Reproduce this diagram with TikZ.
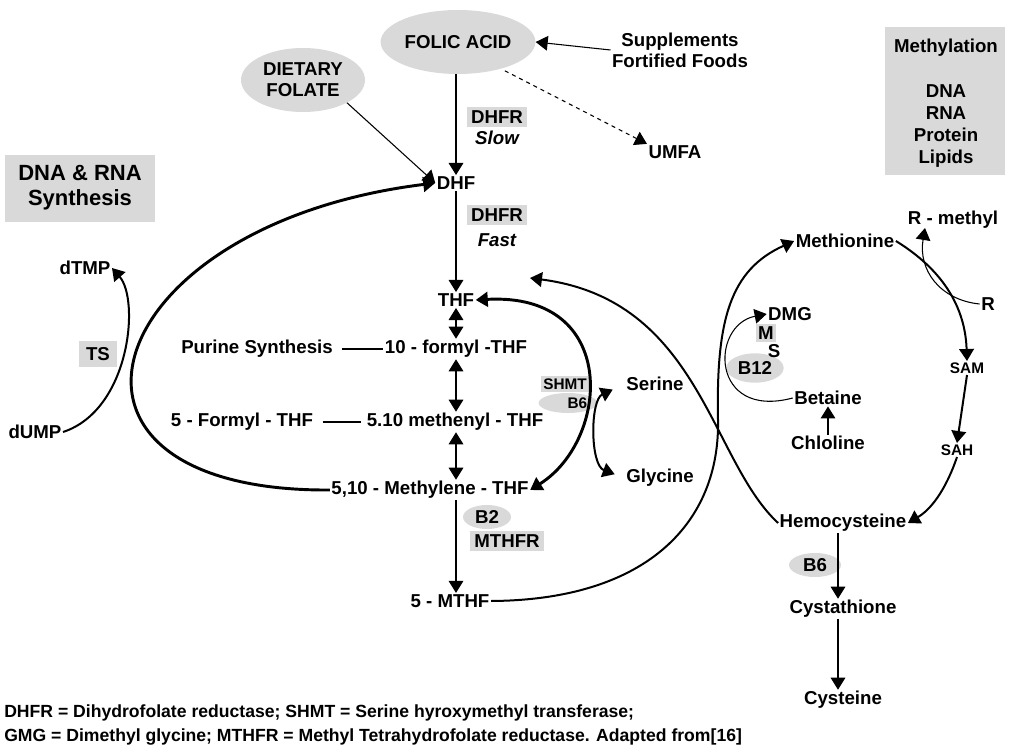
\documentclass[tikz,border=0pt]{standalone}
\usepackage{fontspec}
\setmainfont{Liberation Sans}
\usetikzlibrary{arrows.meta,shapes.geometric}
\begin{document}
\begin{tikzpicture}[x=0.75pt,y=-0.75pt,
  txt/.style={font=\fontsize{14}{16}\selectfont\bfseries, inner sep=1pt, align=center},
  sml/.style={font=\fontsize{11.5}{13}\selectfont\bfseries, inner sep=1pt, align=center},
  gbox/.style={fill=black!15, inner sep=3pt},
  gell/.style={ellipse, fill=black!15, inner sep=1pt},
  tip/.style={-{Triangle[width=11pt,length=9pt]}},
  dtip/.style={{Triangle[width=11pt,length=9pt]}-{Triangle[width=11pt,length=9pt]}},
  thin/.style={line width=0.8pt},
  thick/.style={line width=2.2pt},
  med/.style={line width=1.5pt}]
\useasboundingbox (0,0) rectangle (1024,745);

% boxes and ellipses
\node[gell, minimum width=103pt, minimum height=48pt, txt] (folic) at (458,42) {FOLIC ACID};
\node[gell, minimum width=93pt, minimum height=48pt, txt] (diet) at (303,80) {DIETARY\\FOLATE};
\node[txt] (supp) at (680,50) {Supplements\\Fortified Foods};
\node[txt, gbox] (dhfr1) at (497,117) {DHFR};
\node[txt] (slow) at (497,138) {\itshape Slow};
\node[txt] (umfa) at (675,152) {UMFA};
\fill[black!15] (885,27) rectangle (1005,175);
\node[txt] (meth) at (946,48) {Methylation};
\node[txt, font=\fontsize{14}{16.5}\selectfont\bfseries] (mlist) at (946,126) {DNA\\RNA\\Protein\\Lipids};
\fill[black!15] (5,155) rectangle (155,222);
\node[txt, font=\fontsize{16.5}{19}\selectfont\bfseries] (dnas) at (80,188) {DNA \& RNA\\Synthesis};

% folate chain
\node[txt] (dhf) at (456,183) {DHF};
\node[txt, gbox] (dhfr2) at (497,215) {DHFR};
\node[txt] (fast) at (497,240) {\itshape Fast};
\node[txt] (thf) at (456,300) {THF};
\node[txt] (formyl) at (456,349) {10 - formyl -THF};
\node[txt] (purine) at (257,349) {Purine Synthesis};
\node[txt] (methenyl) at (455,422) {5.10 methenyl - THF};
\node[txt] (fformyl) at (242,422) {5 - Formyl - THF};
\node[txt] (methylene) at (430,490) {5,10 - Methylene - THF};
\node[gell, minimum width=36pt, minimum height=18pt, txt] (b2) at (487,517) {B2};
\node[txt, gbox] (mthfr) at (507,541) {MTHFR};
\node[txt] (mthf) at (450,601) {5 - MTHF};

% left side
\node[txt] (dtmp) at (85,268) {dTMP};
\node[txt, gbox, inner sep=5pt] (ts) at (98,354) {TS};
\node[txt] (dump) at (35,432) {dUMP};

% SHMT
\node[sml, gbox, inner sep=2pt] (shmt) at (565,384) {SHMT};
\node[gell, minimum width=44pt, minimum height=15pt, sml] (b6a) at (568,403) {\hspace*{14pt}B6};
\node[txt] (serine) at (655,384) {Serine};
\node[txt] (glycine) at (660,478) {Glycine};

% methionine cycle
\node[txt] (methionine) at (845,241) {Methionine};
\node[txt] (rmethyl) at (953,220) {R - methyl};
\node[txt] (r) at (988,304) {R};
\node[sml] (sam) at (967,368) {SAM};
\node[sml] (sah) at (957,450) {SAH};
\node[txt] (hcy) at (843,523) {Hemocysteine};
\node[gell, minimum width=39pt, minimum height=18pt, txt] (b6b) at (815,565) {B6};
\node[txt] (cysta) at (843,609) {Cystathione};
\node[txt] (cys) at (843,700) {Cysteine};
\node[gell, minimum width=43pt, minimum height=22pt, txt] (b12) at (755,368) {B12};
\node[txt, gbox, inner sep=2pt] (mbox) at (766,333) {M};
\node[txt] (s) at (774,351) {S};
\node[txt] (dmg) at (790,314) {DMG};
\node[txt] (betaine) at (828,398) {Betaine};
\node[txt] (chol) at (828,443) {Chloline};

% footnote
\node[anchor=west, font=\fontsize{13.2}{18}\selectfont\bfseries, align=left, inner sep=0pt] (note) at (4,725)
  {DHFR = Dihydrofolate reductase; SHMT = Serine hyroxymethyl transferase;\\GMG = Dimethyl glycine; MTHFR = Methyl Tetrahydrofolate reductase. Adapted from[16]};

% straight connectors
\draw[thin, tip] (supp.west) -- (folic.east);
\draw[thin, dashed, tip] (folic.south east) ++(-8,6) coordinate (fd) (fd) -- (umfa.north west);
\draw[thin, tip] (diet.south east) -- (dhf.west);
\draw[thin, tip] (folic.south -| dhf) -- (dhf.north);
\draw[thin, tip] (dhf.south) -- (thf.north);
\draw[thin, dtip] (thf.south) -- (formyl.north);
\draw[thin, dtip] (formyl.south) -- (methenyl.north -| formyl);
\draw[thin, dtip] (methenyl.south -| formyl) -- (methylene.north -| formyl);
\draw[thin, tip] (methylene.south -| formyl) -- (mthf.north -| formyl);
\draw[thin] (purine.east) ++(8,0) -- (formyl.west);
\draw[thin] (fformyl.east) ++(8,0) -- ++(38,0);
\draw[thin, tip] (hcy.south -| 838,0) -- (cysta.north -| 838,0);
\draw[thin, tip] (cysta.south -| 838,0) -- (cys.north -| 838,0);
\draw[thin, tip] (chol.north) -- (betaine.south);

% curved connectors
\draw[thick, tip] (methylene.west) .. controls (15,492) and (95,225) .. (dhf.west);
\draw[med, tip] (dump.east) .. controls (130,410) and (140,300) .. (dtmp.east);
\draw[thick, dtip] (thf.east) .. controls (620,292) and (610,440) .. (methylene.east);
\draw[med, dtip, shorten <=10pt, shorten >=8pt] (serine.west) .. controls (590,400) and (590,465) .. (glycine.west);
\draw[med, tip] (mthf.east) .. controls (650,600) and (720,520) .. (718,420) .. controls (716,320) and (730,270) .. (methionine.west);
\draw[med, tip] (hcy.west) .. controls (710,460) and (700,300) .. (530,278) coordinate (thfarr);
\draw[thin, tip] (betaine.west) .. controls (710,420) and (710,325) .. (dmg.west);
\draw[med, tip] (methionine.east) .. controls (935,265) and (965,300) .. (sam.north);
\draw[thin, tip] (r.west) .. controls (940,300) and (918,270) .. (925,228) coordinate (rm);
\draw[med, tip] (sam.south) -- (sah.north);
\draw[med, tip] (sah.south) .. controls (945,492) and (930,510) .. (hcy.east);
\end{tikzpicture}
\end{document}
